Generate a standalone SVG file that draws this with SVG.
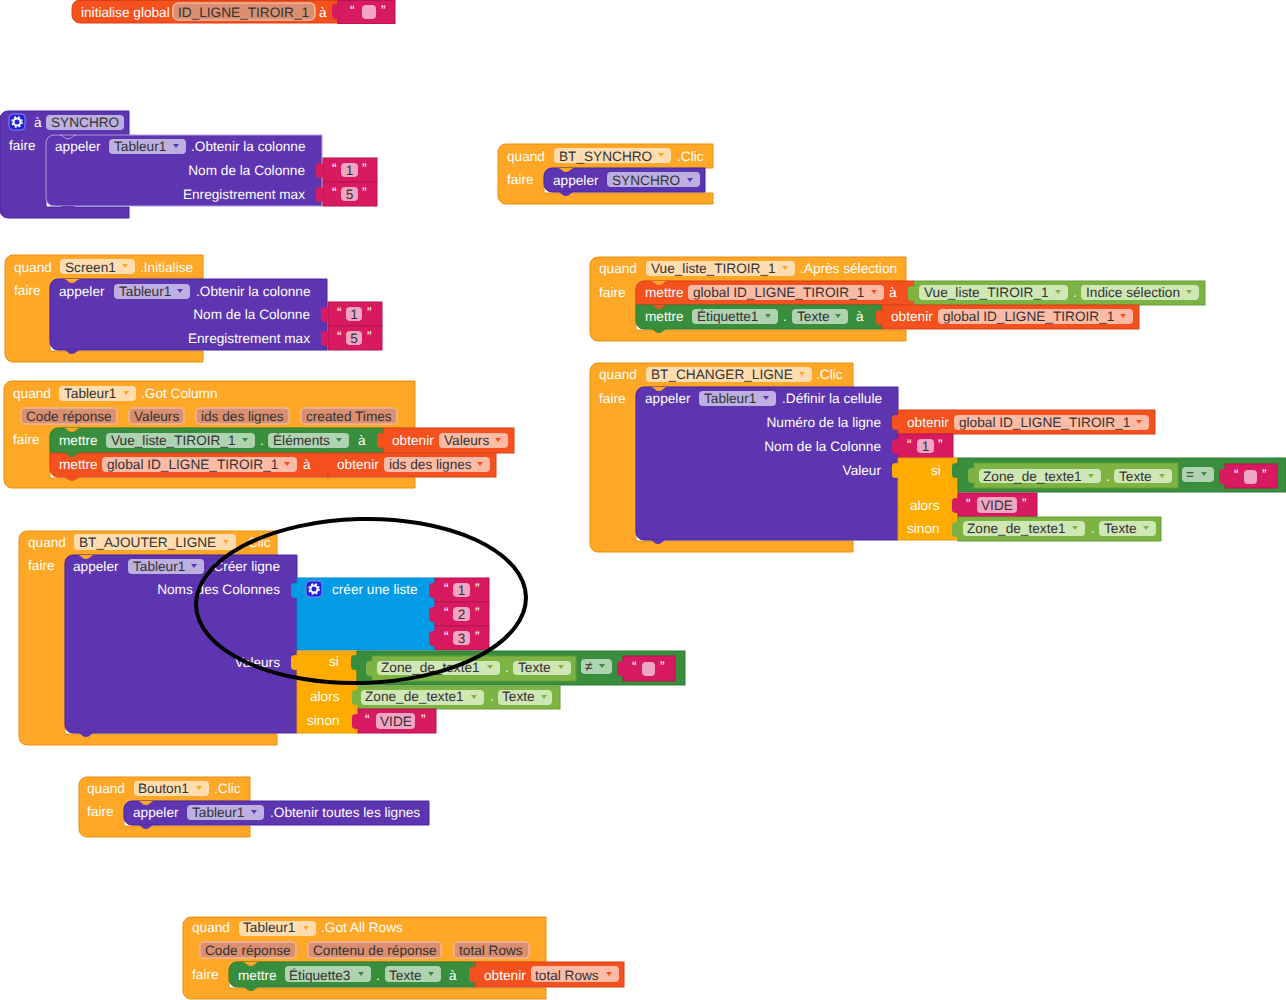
<svg xmlns="http://www.w3.org/2000/svg" width="1286" height="1000" viewBox="0 0 1286 1000">
<style>
text{font-family:"Liberation Sans",Arial,sans-serif;font-size:13.65px;fill:#fff;text-rendering:geometricPrecision}
.d{fill:#333}.e{text-anchor:end}.c{text-anchor:middle}
.O{fill:#FFA726;stroke:#E88E14;stroke-width:1}
.A{fill:#FFAB00;stroke:#E69A00;stroke-width:1}
.P{fill:#5E35B1;stroke:#4527A0;stroke-width:1}
.Pi{fill:#5E35B1;stroke:#B39DDB;stroke-width:1}
.M{fill:#D81B60;stroke:#B8134E;stroke-width:1}
.R{fill:#F4511E;stroke:#D84315;stroke-width:1}
.G{fill:#388E3C;stroke:#2E7D32;stroke-width:1}
.L{fill:#7CB342;stroke:#689F38;stroke-width:1}
.B{fill:#039BE5;stroke:#0288D1;stroke-width:1}
.fO{fill:#FFA726}.fA{fill:#FFAB00}.fP{fill:#5E35B1}.fM{fill:#D81B60}.fR{fill:#F4511E}.fG{fill:#388E3C}.fL{fill:#7CB342}.fB{fill:#039BE5}
.pO{fill:#FFDDB0}.pP{fill:#BDB0E0}.pM{fill:#F2A6C4}.pR{fill:#FDBBA6}.pG{fill:#AFD2B1}.pL{fill:#CFE6B5}
.pT{fill:#D98F70;stroke:#EDB79F;stroke-width:1.5}
#ring{fill:none;stroke:#000;stroke-width:4}
</style>
<defs>
<path id="tab" d="M1 1C-2 -1 -6 0 -6 3V12C-6 15 -2 16 1 14Z"/>
<path id="bump" d="M0 0C3 0 4 4 8 4C12 4 13 0 16 0Z"/>
<path id="tri" d="M-3 -2H3L0 2Z"/>
<g id="gear"><rect width="16" height="16" rx="4" fill="#2222DD" stroke="#8888EE"/><circle cx="8" cy="8" r="3.5" fill="none" stroke="#fff" stroke-width="2"/><circle cx="8" cy="8" r="5" fill="none" stroke="#fff" stroke-width="1.5" stroke-dasharray="2 2"/></g>
</defs>

<g id="init-global">
<path class="R" d="M80 0.5H338V23H80a8 8 0 0 1 -8 -8V8a8 8 0 0 1 8 -8Z"/>
<text x="81" y="17">initialise global</text>
<rect x="173" y="3" width="142" height="17" rx="5" class="pT"/><text class="d" x="178" y="17">ID_LIGNE_TIROIR_1</text>
<text x="319" y="17">à</text>
<rect class="M" x="338" y="0.5" width="57" height="23"/><use href="#tab" class="fM" x="338" y="4"/>
<text x="350" y="15">“</text><rect class="pM" x="362" y="5" width="14" height="14" rx="4"/><text x="381" y="15">”</text>
</g>

<g id="proc-synchro">
<path class="P" d="M8 111H129V135H54L46 143V207H129V218H8a8 8 0 0 1 -8 -8V119a8 8 0 0 1 8 -8Z"/>
<use href="#gear" x="9" y="114"/>
<text x="34" y="127">à</text>
<rect class="pP" x="46" y="115" width="78" height="15" rx="4"/><text class="d" x="51" y="127">SYNCHRO</text>
<text x="9" y="150">faire</text>
<path class="Pi" d="M54 135H322V206H54a8 8 0 0 1 -8 -8V143a8 8 0 0 1 8 -8Z"/>
<path d="M60 135C63 135 64 139 68 139C72 139 73 135 76 135" fill="none" stroke="#B39DDB"/>
<use href="#bump" class="fP" x="60" y="206"/>
<text x="55" y="151">appeler</text>
<rect class="pP" x="109" y="139" width="77" height="15" rx="4"/><text class="d" x="114" y="151">Tableur1</text><use href="#tri" class="fP" x="176" y="146"/>
<text x="191" y="151">.Obtenir la colonne</text>
<text class="e" x="305" y="175">Nom de la Colonne</text>
<text class="e" x="305" y="199">Enregistrement max</text>
<rect class="M" x="323" y="158" width="54" height="24"/><use href="#tab" class="fM" x="322" y="163"/>
<text x="332" y="173">“</text><rect class="pM" x="341" y="163" width="17" height="14" rx="4"/><text class="d c" x="349.500" y="175">1</text><text x="362" y="173">”</text>
<rect class="M" x="323" y="182" width="54" height="24"/><use href="#tab" class="fM" x="322" y="187"/>
<text x="332" y="197">“</text><rect class="pM" x="341" y="187" width="17" height="14" rx="4"/><text class="d c" x="349.500" y="199">5</text><text x="362" y="197">”</text>
</g>

<g id="when-bt-synchro">
<path class="O" d="M506 144H713V168H552L544 176V193H713V204H506a8 8 0 0 1 -8 -8V152a8 8 0 0 1 8 -8Z"/>
<text x="507" y="161">quand</text>
<rect class="pO" x="554" y="148" width="117" height="15" rx="4"/><text class="d" x="559" y="161">BT_SYNCHRO</text><use href="#tri" class="fO" x="661" y="155"/>
<text x="677" y="161">.Clic</text>
<text x="507" y="184">faire</text>
<path class="P" d="M552 168H705V192H552a8 8 0 0 1 -8 -8V176a8 8 0 0 1 8 -8Z"/>
<use href="#bump" class="fO" x="558" y="168"/><use href="#bump" class="fP" x="558" y="192"/>
<text x="553" y="185">appeler</text>
<rect class="pP" x="607" y="172" width="93" height="15" rx="4"/><text class="d" x="612" y="185">SYNCHRO</text><use href="#tri" class="fP" x="690" y="180"/>
</g>

<g id="when-screen1">
<path class="O" d="M13 255H203V279H58L50 287V351H203V362H13a8 8 0 0 1 -8 -8V263a8 8 0 0 1 8 -8Z"/>
<text x="14" y="272">quand</text>
<rect class="pO" x="60" y="259" width="75" height="15" rx="4"/><text class="d" x="65" y="272">Screen1</text><use href="#tri" class="fO" x="125" y="266"/>
<text x="140" y="272">.Initialise</text>
<text x="14" y="295">faire</text>
<path class="P" d="M58 279H327V350H58a8 8 0 0 1 -8 -8V287a8 8 0 0 1 8 -8Z"/>
<use href="#bump" class="fO" x="64" y="279"/><use href="#bump" class="fP" x="64" y="350"/>
<text x="59" y="296">appeler</text>
<rect class="pP" x="114" y="284" width="76" height="15" rx="4"/><text class="d" x="119" y="296">Tableur1</text><use href="#tri" class="fP" x="180" y="291"/>
<text x="196" y="296">.Obtenir la colonne</text>
<text class="e" x="310" y="319">Nom de la Colonne</text>
<text class="e" x="310" y="343">Enregistrement max</text>
<rect class="M" x="328" y="302" width="54" height="24"/><use href="#tab" class="fM" x="327" y="307"/>
<text x="337" y="317">“</text><rect class="pM" x="346" y="307" width="16" height="14" rx="4"/><text class="d c" x="354" y="319">1</text><text x="367" y="317">”</text>
<rect class="M" x="328" y="326" width="54" height="24"/><use href="#tab" class="fM" x="327" y="331"/>
<text x="337" y="341">“</text><rect class="pM" x="346" y="331" width="16" height="14" rx="4"/><text class="d c" x="354" y="343">5</text><text x="367" y="341">”</text>
</g>

<g id="when-got-column">
<path class="O" d="M12 381H415V428H58L50 436V478H415V488H12a8 8 0 0 1 -8 -8V389a8 8 0 0 1 8 -8Z"/>
<text x="13" y="398">quand</text>
<rect class="pO" x="59" y="386" width="77" height="15" rx="4"/><text class="d" x="64" y="398">Tableur1</text><use href="#tri" class="fO" x="126" y="393"/>
<text x="141" y="398">.Got Column</text>
<rect class="pT" x="21" y="408" width="96" height="16" rx="4"/><text class="d" x="26" y="421">Code réponse</text>
<rect class="pT" x="129" y="408" width="55" height="16" rx="4"/><text class="d" x="134" y="421">Valeurs</text>
<rect class="pT" x="196" y="408" width="93" height="16" rx="4"/><text class="d" x="201" y="421">ids des lignes</text>
<rect class="pT" x="301" y="408" width="96" height="16" rx="4"/><text class="d" x="306" y="421">created Times</text>
<text x="13" y="444">faire</text>
<path class="G" d="M58 428H383V453H50V436a8 8 0 0 1 8 -8Z"/>
<use href="#bump" class="fO" x="64" y="428"/>
<text x="59" y="445">mettre</text>
<rect class="pG" x="106" y="433" width="149" height="15" rx="4"/><text class="d" x="111" y="445">Vue_liste_TIROIR_1</text><use href="#tri" class="fG" x="245" y="440"/>
<text x="260" y="445">.</text>
<rect class="pG" x="268" y="433" width="81" height="15" rx="4"/><text class="d" x="273" y="445">Éléments</text><use href="#tri" class="fG" x="339" y="440"/>
<text x="358" y="445">à</text>
<rect class="R" x="383" y="428" width="131" height="25"/><use href="#tab" class="fR" x="383" y="433"/>
<text x="392" y="445">obtenir</text>
<rect class="pR" x="439" y="433" width="69" height="15" rx="4"/><text class="d" x="444" y="445">Valeurs</text><use href="#tri" class="fR" x="498" y="440"/>
<path class="R" d="M50 453H328V477H58a8 8 0 0 1 -8 -8Z"/>
<use href="#bump" class="fG" x="64" y="453"/><use href="#bump" class="fR" x="64" y="477"/>
<text x="59" y="469">mettre</text>
<rect class="pR" x="102" y="457" width="195" height="15" rx="4"/><text class="d" x="107" y="469">global ID_LIGNE_TIROIR_1</text><use href="#tri" class="fR" x="287" y="464"/>
<text x="303" y="469">à</text>
<rect class="R" x="328" y="453" width="168" height="24"/><use href="#tab" class="fR" x="328" y="458"/>
<text x="337" y="469">obtenir</text>
<rect class="pR" x="384" y="457" width="106" height="15" rx="4"/><text class="d" x="389" y="469">ids des lignes</text><use href="#tri" class="fR" x="480" y="464"/>
</g>

<g id="when-vue-liste">
<path class="O" d="M598 257H906V281H644L636 289V330H906V341H598a8 8 0 0 1 -8 -8V265a8 8 0 0 1 8 -8Z"/>
<text x="599" y="273">quand</text>
<rect class="pO" x="646" y="261" width="149" height="15" rx="4"/><text class="d" x="651" y="273">Vue_liste_TIROIR_1</text><use href="#tri" class="fO" x="785" y="268"/>
<text x="800" y="273">.Après sélection</text>
<text x="599" y="297">faire</text>
<path class="R" d="M644 281H914V305H636V289a8 8 0 0 1 8 -8Z"/>
<use href="#bump" class="fO" x="651" y="281"/>
<text x="645" y="297">mettre</text>
<rect class="pR" x="688" y="285" width="196" height="15" rx="4"/><text class="d" x="693" y="297">global ID_LIGNE_TIROIR_1</text><use href="#tri" class="fR" x="874" y="292"/>
<text x="889" y="297">à</text>
<rect class="L" x="914" y="281" width="291" height="24"/><use href="#tab" class="fL" x="914" y="286"/>
<rect class="pL" x="919" y="285" width="149" height="15" rx="4"/><text class="d" x="924" y="297">Vue_liste_TIROIR_1</text><use href="#tri" class="fL" x="1058" y="292"/>
<text x="1073" y="297">.</text>
<rect class="pL" x="1081" y="285" width="118" height="15" rx="4"/><text class="d" x="1086" y="297">Indice sélection</text><use href="#tri" class="fL" x="1189" y="292"/>
<path class="G" d="M636 305H882V329H644a8 8 0 0 1 -8 -8Z"/>
<use href="#bump" class="fR" x="651" y="305"/><use href="#bump" class="fG" x="651" y="329"/>
<text x="645" y="321">mettre</text>
<rect class="pG" x="692" y="309" width="86" height="15" rx="4"/><text class="d" x="697" y="321">Étiquette1</text><use href="#tri" class="fG" x="768" y="316"/>
<text x="783" y="321">.</text>
<rect class="pG" x="792" y="309" width="56" height="15" rx="4"/><text class="d" x="797" y="321">Texte</text><use href="#tri" class="fG" x="838" y="316"/>
<text x="856" y="321">à</text>
<rect class="R" x="882" y="305" width="257" height="24"/><use href="#tab" class="fR" x="882" y="310"/>
<text x="891" y="321">obtenir</text>
<rect class="pR" x="938" y="309" width="195" height="15" rx="4"/><text class="d" x="943" y="321">global ID_LIGNE_TIROIR_1</text><use href="#tri" class="fR" x="1123" y="316"/>
</g>

<g id="when-bt-changer-ligne">
<path class="O" d="M598 363H853V387H644L636 395V541H853V552H598a8 8 0 0 1 -8 -8V371a8 8 0 0 1 8 -8Z"/>
<text x="599" y="379">quand</text>
<rect class="pO" x="646" y="367" width="166" height="15" rx="4"/><text class="d" x="651" y="379">BT_CHANGER_LIGNE</text><use href="#tri" class="fO" x="802" y="374"/>
<text x="816" y="379">.Clic</text>
<text x="599" y="403">faire</text>
<path class="P" d="M644 387H898V540H644a8 8 0 0 1 -8 -8V395a8 8 0 0 1 8 -8Z"/>
<use href="#bump" class="fO" x="651" y="387"/><use href="#bump" class="fP" x="650" y="540"/>
<text x="645" y="403">appeler</text>
<rect class="pP" x="699" y="391" width="77" height="15" rx="4"/><text class="d" x="704" y="403">Tableur1</text><use href="#tri" class="fP" x="766" y="398"/>
<text x="782" y="403">.Définir la cellule</text>
<text class="e" x="881" y="427">Numéro de la ligne</text>
<text class="e" x="881" y="451">Nom de la Colonne</text>
<text class="e" x="881" y="475">Valeur</text>
<rect class="R" x="898" y="410" width="257" height="24"/><use href="#tab" class="fR" x="898" y="415"/>
<text x="907" y="427">obtenir</text>
<rect class="pR" x="954" y="415" width="195" height="15" rx="4"/><text class="d" x="959" y="427">global ID_LIGNE_TIROIR_1</text><use href="#tri" class="fR" x="1139" y="422"/>
<rect class="M" x="898" y="434" width="55" height="24"/><use href="#tab" class="fM" x="898" y="439"/>
<text x="907" y="449">“</text><rect class="pM" x="917" y="439" width="17" height="14" rx="4"/><text class="d c" x="925.500" y="451">1</text><text x="938" y="449">”</text>
<rect class="A" x="898" y="458" width="60" height="82"/><use href="#tab" class="fA" x="898" y="463"/>
<text x="931" y="475">si</text><text x="910" y="510">alors</text><text x="907" y="533">sinon</text>
<rect class="G" x="958" y="458" width="328" height="34"/><use href="#tab" class="fG" x="958" y="463"/>
<rect class="L" x="974" y="463" width="204" height="25"/><use href="#tab" class="fL" x="974" y="468"/>
<rect class="pL" x="979" y="469" width="122" height="14" rx="4"/><text class="d" x="983" y="481">Zone_de_texte1</text><use href="#tri" class="fL" x="1091" y="476"/>
<text x="1106" y="481">.</text>
<rect class="pL" x="1114" y="469" width="58" height="14" rx="4"/><text class="d" x="1119" y="481">Texte</text><use href="#tri" class="fL" x="1162" y="476"/>
<rect class="pG" x="1182" y="467" width="32" height="15" rx="4"/><text class="d" x="1186" y="479">=</text><use href="#tri" class="fG" x="1204" y="474"/>
<rect class="M" x="1225" y="464" width="52" height="24"/><use href="#tab" class="fM" x="1225" y="469"/>
<text x="1234" y="479">“</text><rect class="pM" x="1244" y="470" width="13" height="14" rx="4"/><text x="1262" y="479">”</text>
<rect class="M" x="958" y="493" width="79" height="24"/><use href="#tab" class="fM" x="958" y="498"/>
<text x="966" y="508">“</text><rect class="pM" x="977" y="497" width="40" height="16" rx="4"/><text class="d" x="981" y="510">VIDE</text><text x="1022" y="508">”</text>
<rect class="L" x="958" y="517" width="203" height="24"/><use href="#tab" class="fL" x="958" y="522"/>
<rect class="pL" x="963" y="521" width="122" height="15" rx="4"/><text class="d" x="967" y="533">Zone_de_texte1</text><use href="#tri" class="fL" x="1075" y="528"/>
<text x="1091" y="533">.</text>
<rect class="pL" x="1099" y="521" width="57" height="15" rx="4"/><text class="d" x="1104" y="533">Texte</text><use href="#tri" class="fL" x="1146" y="528"/>
</g>

<g id="when-bt-ajouter-ligne">
<path class="O" d="M27 531H277V555H73L65 563V734H277V745H27a8 8 0 0 1 -8 -8V539a8 8 0 0 1 8 -8Z"/>
<text x="28" y="547">quand</text>
<rect class="pO" x="74" y="534" width="162" height="16" rx="4"/><text class="d" x="79" y="547">BT_AJOUTER_LIGNE</text><use href="#tri" class="fO" x="226" y="542"/>
<text x="244" y="547">.Clic</text>
<text x="28" y="570">faire</text>
<path class="P" d="M73 555H297V733H73a8 8 0 0 1 -8 -8V563a8 8 0 0 1 8 -8Z"/>
<use href="#bump" class="fO" x="78" y="555"/><use href="#bump" class="fP" x="78" y="733"/>
<text x="73" y="571">appeler</text>
<rect class="pP" x="128" y="559" width="76" height="15" rx="4"/><text class="d" x="133" y="571">Tableur1</text><use href="#tri" class="fP" x="194" y="566"/>
<text class="e" x="280" y="571">.Créer ligne</text>
<text class="e" x="280" y="594">Noms des Colonnes</text>
<text class="e" x="280" y="667">Valeurs</text>
<rect class="B" x="297" y="578" width="138" height="72"/><use href="#tab" class="fB" x="297" y="583"/>
<use href="#gear" x="306" y="581"/>
<text x="332" y="594">créer une liste</text>
<rect class="M" x="435" y="578" width="54" height="24"/><use href="#tab" class="fM" x="435" y="583"/>
<text x="444" y="593">“</text><rect class="pM" x="453" y="583" width="17" height="14" rx="4"/><text class="d c" x="461.500" y="595">1</text><text x="475" y="593">”</text>
<rect class="M" x="435" y="602" width="54" height="24"/><use href="#tab" class="fM" x="435" y="607"/>
<text x="444" y="617">“</text><rect class="pM" x="453" y="607" width="17" height="14" rx="4"/><text class="d c" x="461.500" y="619">2</text><text x="475" y="617">”</text>
<rect class="M" x="435" y="626" width="54" height="24"/><use href="#tab" class="fM" x="435" y="631"/>
<text x="444" y="641">“</text><rect class="pM" x="453" y="631" width="17" height="14" rx="4"/><text class="d c" x="461.500" y="643">3</text><text x="475" y="641">”</text>
<rect class="A" x="297" y="651" width="60" height="82"/><use href="#tab" class="fA" x="297" y="655"/>
<text x="329" y="666">si</text><text x="310" y="701">alors</text><text x="307" y="725">sinon</text>
<rect class="G" x="357" y="651" width="328" height="34"/><use href="#tab" class="fG" x="357" y="655"/>
<rect class="L" x="372" y="656" width="204" height="25"/><use href="#tab" class="fL" x="372" y="661"/>
<rect class="pL" x="377" y="661" width="123" height="14" rx="4"/><text class="d" x="381" y="672">Zone_de_texte1</text><use href="#tri" class="fL" x="490" y="667"/>
<text x="505" y="672">.</text>
<rect class="pL" x="513" y="661" width="58" height="14" rx="4"/><text class="d" x="518" y="672">Texte</text><use href="#tri" class="fL" x="561" y="667"/>
<rect class="pG" x="581" y="659" width="31" height="15" rx="4"/><text class="d" x="585" y="671">≠</text><use href="#tri" class="fG" x="602" y="666"/>
<rect class="M" x="623" y="656" width="52" height="25"/><use href="#tab" class="fM" x="623" y="661"/>
<text x="632" y="671">“</text><rect class="pM" x="642" y="662" width="13" height="14" rx="4"/><text x="660" y="671">”</text>
<rect class="L" x="358" y="686" width="202" height="23"/><use href="#tab" class="fL" x="358" y="690"/>
<rect class="pL" x="361" y="690" width="123" height="15" rx="4"/><text class="d" x="365" y="701">Zone_de_texte1</text><use href="#tri" class="fL" x="474" y="697"/>
<text x="490" y="701">.</text>
<rect class="pL" x="498" y="690" width="54" height="15" rx="4"/><text class="d" x="502" y="701">Texte</text><use href="#tri" class="fL" x="544" y="697"/>
<rect class="M" x="358" y="709" width="78" height="24"/><use href="#tab" class="fM" x="358" y="714"/>
<text x="365" y="724">“</text><rect class="pM" x="376" y="713" width="39" height="16" rx="4"/><text class="d" x="380" y="726">VIDE</text><text x="421" y="724">”</text>
<ellipse id="ring" cx="361" cy="601" rx="165" ry="82" transform="rotate(-1.500 361 601)"/>
</g>

<g id="when-bouton1">
<path class="O" d="M87 777H250V801H132L124 809V826H250V837H87a8 8 0 0 1 -8 -8V785a8 8 0 0 1 8 -8Z"/>
<text x="87" y="793">quand</text>
<rect class="pO" x="134" y="781" width="75" height="15" rx="4"/><text class="d" x="138" y="793">Bouton1</text><use href="#tri" class="fO" x="199" y="788"/>
<text x="214" y="793">.Clic</text>
<text x="87" y="816">faire</text>
<path class="P" d="M132 801H429V825H132a8 8 0 0 1 -8 -8V809a8 8 0 0 1 8 -8Z"/>
<use href="#bump" class="fO" x="138" y="801"/><use href="#bump" class="fP" x="138" y="825"/>
<text x="133" y="817">appeler</text>
<rect class="pP" x="187" y="805" width="77" height="15" rx="4"/><text class="d" x="192" y="817">Tableur1</text><use href="#tri" class="fP" x="254" y="812"/>
<text x="270" y="817">.Obtenir toutes les lignes</text>
</g>

<g id="when-got-all-rows">
<path class="O" d="M191 917H546V962H237L229 970V988H546V999H191a8 8 0 0 1 -8 -8V925a8 8 0 0 1 8 -8Z"/>
<text x="192" y="932">quand</text>
<rect class="pO" x="239" y="921" width="77" height="15" rx="4"/><text class="d" x="243" y="932">Tableur1</text><use href="#tri" class="fO" x="306" y="928"/>
<text x="321" y="932">.Got All Rows</text>
<rect class="pT" x="200" y="942" width="96" height="16" rx="4"/><text class="d" x="205" y="955">Code réponse</text>
<rect class="pT" x="308" y="942" width="133" height="16" rx="4"/><text class="d" x="313" y="955">Contenu de réponse</text>
<rect class="pT" x="454" y="942" width="75" height="16" rx="4"/><text class="d" x="459" y="955">total Rows</text>
<text x="192" y="979">faire</text>
<path class="G" d="M237 962H475V987H237a8 8 0 0 1 -8 -8V970a8 8 0 0 1 8 -8Z"/>
<use href="#bump" class="fO" x="243" y="962"/><use href="#bump" class="fG" x="243" y="987"/>
<text x="238" y="980">mettre</text>
<rect class="pG" x="285" y="966" width="86" height="16" rx="4"/><text class="d" x="289" y="980">Étiquette3</text><use href="#tri" class="fG" x="361" y="974"/>
<text x="376" y="980">.</text>
<rect class="pG" x="385" y="966" width="56" height="16" rx="4"/><text class="d" x="389" y="980">Texte</text><use href="#tri" class="fG" x="431" y="974"/>
<text x="449" y="980">à</text>
<rect class="R" x="475" y="962" width="149" height="25"/><use href="#tab" class="fR" x="475" y="967"/>
<text x="484" y="980">obtenir</text>
<rect class="pR" x="531" y="966" width="88" height="16" rx="4"/><text class="d" x="535" y="980">total Rows</text><use href="#tri" class="fR" x="609" y="974"/>
</g>
</svg>
